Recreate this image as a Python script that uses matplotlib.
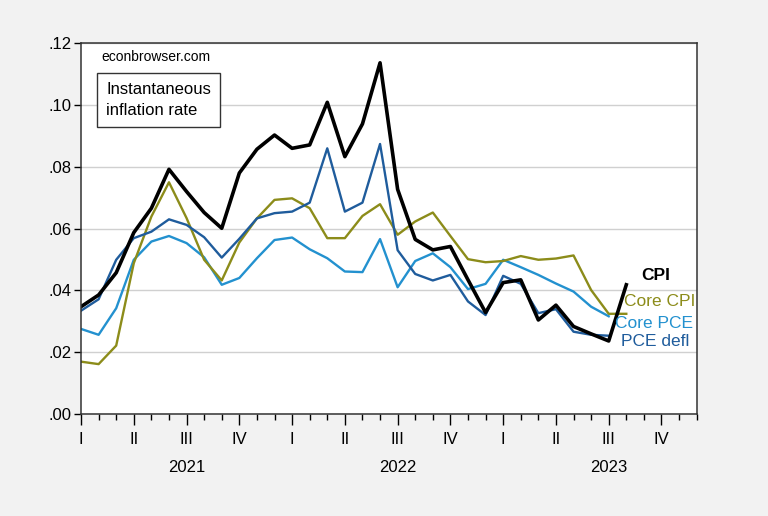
import matplotlib.pyplot as plt
import matplotlib.transforms as mtransforms
import numpy as np

### Data: monthly, starting Jan 2021

cpi = [.0347, .0385, .0457, .0587, .0666, .0792, .0720, .0652, .0601, .0780,
       .0857, .0903, .0860, .0871, .1009, .0833, .0939, .1137, .0727, .0565,
       .0531, .0542, .0434, .0328, .0425, .0434, .0304, .0352, .0283, .0259,
       .0236, .0418]
core_cpi = [.0169, .0161, .0221, .0488, .0639, .0750, .0634, .0499, .0432, .0555,
            .0633, .0693, .0698, .0666, .0569, .0569, .0641, .0679, .0580, .0623,
            .0652, .0576, .0501, .0491, .0495, .0511, .0499, .0503, .0513, .0401,
            .0324, .0324]
core_pce = [.0275, .0256, .0342, .0499, .0558, .0576, .0553, .0507, .0418, .0440,
            .0504, .0563, .0571, .0533, .0504, .0461, .0459, .0566, .0410, .0495,
            .0520, .0475, .0404, .0421, .0499, .0475, .0450, .0422, .0396, .0347,
            .0316]
pce_defl = [.0334, .0371, .0499, .0569, .0590, .0630, .0612, .0572, .0506, .0567,
            .0633, .0650, .0655, .0684, .0860, .0655, .0684, .0874, .0530, .0453,
            .0432, .0450, .0364, .0320, .0447, .0421, .0326, .0339, .0266, .0256,
            .0253]

quarters = ['I', 'II', 'III', 'IV'] * 3
years = ['2021', '2022', '2023']
yticks = [0, .02, .04, .06, .08, .10, .12]
ytick_labels = ['.00', '.02', '.04', '.06', '.08', '.10', '.12']

plt.rcParams['font.family'] = ['Liberation Sans', 'DejaVu Sans']

c_cpi = 'black'
c_core_cpi = '#8c8c1a'
c_core_pce = '#2391cf'
c_pce = '#1f5c9c'

fig, ax = plt.subplots()
fig.set_size_inches(7.68, 5.16)
fig.set_facecolor('#f2f2f2')
fig.subplots_adjust(left=0.1055, right=0.9071, top=0.916, bottom=0.198)

ax.plot(np.arange(len(core_pce)), core_pce, color=c_core_pce, linewidth=1.7)
ax.plot(np.arange(len(core_cpi)), core_cpi, color=c_core_cpi, linewidth=1.7)
ax.plot(np.arange(len(pce_defl)), pce_defl, color=c_pce, linewidth=1.7)
ax.plot(np.arange(len(cpi)), cpi, color=c_cpi, linewidth=2.6)

ax.set_xlim(0, 35)
ax.set_ylim(0, .12)
ax.set_yticks(yticks)
ax.set_yticklabels(ytick_labels, fontsize=12)
ax.grid(axis='y', color='#d0d0d0', linewidth=1)
ax.set_axisbelow(True)

ax.set_xticks(np.arange(0, 36, 3))
ax.set_xticklabels(quarters, fontsize=12)
ax.set_xticks(np.arange(0, 36), minor=True)
ax.tick_params(axis='x', which='major', length=8, pad=5, width=1)
ax.tick_params(axis='x', which='minor', length=4, width=1)
ax.tick_params(axis='y', length=5, width=1, pad=2)
for s in ax.spines.values():
    s.set_linewidth(1.1)
    s.set_color('#333333')

### year labels centred under each year
year_trans = mtransforms.blended_transform_factory(ax.transData, fig.transFigure)
for k, yr in enumerate(years):
    ax.text(6 + 12 * k, 1 - 467 / 516, yr, ha='center', va='center', fontsize=12,
            transform=year_trans)

### series labels
ax.text(656 / 768, 1 - 275.5 / 516, 'CPI', fontweight='bold', fontsize=12.5, color=c_cpi,
        transform=fig.transFigure, ha='center', va='center')
ax.text(660 / 768, 1 - 301 / 516, 'Core CPI', fontsize=12.5, color=c_core_cpi,
        transform=fig.transFigure, ha='center', va='center')
ax.text(654 / 768, 1 - 323 / 516, 'Core PCE', fontsize=12.5, color=c_core_pce,
        transform=fig.transFigure, ha='center', va='center')
ax.text(655.5 / 768, 1 - 341 / 516, 'PCE defl', fontsize=12.5, color=c_pce,
        transform=fig.transFigure, ha='center', va='center')

ax.text(101.5 / 768, 1 - 57 / 516, 'econbrowser.com', fontsize=10,
        transform=fig.transFigure, ha='left', va='center')
ax.text(106 / 768, 1 - 100 / 516, 'Instantaneous\ninflation rate', fontsize=12,
        transform=fig.transFigure, ha='left', va='center', linespacing=1.5,
        bbox=dict(boxstyle='square,pad=0.55', facecolor='white', edgecolor='#333333'))

fig.savefig('out.png', dpi=100, facecolor=fig.get_facecolor())
